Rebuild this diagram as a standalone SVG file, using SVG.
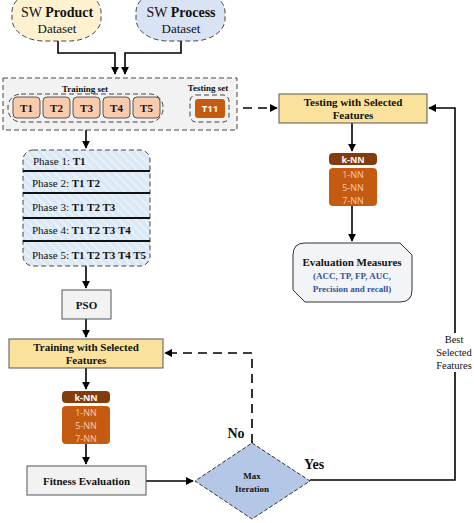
<svg xmlns="http://www.w3.org/2000/svg" width="474" height="523" viewBox="0 0 474 523">
<defs>
<marker id="ah" viewBox="0 0 10 10" refX="9" refY="5" markerWidth="5" markerHeight="5" orient="auto"><path d="M0,0 L10,5 L0,10 z" fill="#000"/></marker>
<pattern id="hatch" width="6" height="6" patternUnits="userSpaceOnUse" patternTransform="rotate(-45)"><rect width="6" height="6" fill="#dbe8f6"/><rect width="1.5" height="6" fill="#eef4fb"/></pattern>
</defs>
<style>
text{font-family:"Liberation Serif","Times New Roman",serif;fill:#111}
.b{font-weight:bold}
.c{text-anchor:middle}
.s{font-family:"Open Sans","Liberation Sans",sans-serif;font-weight:bold}
.line{stroke:#000;stroke-width:1.6;fill:none}
.dl{stroke:#000;stroke-width:1.6;fill:none;stroke-dasharray:9,6}
.t{fill:#f8cbad;stroke:#333;stroke-width:0.8}
.yel{fill:#fbe29c;stroke:#555;stroke-width:1}
.grey{fill:#f2f2f2;stroke:#555;stroke-width:1}
.kh{fill:#843c0c}
.kb{fill:#c55a11}
.nn{fill:#f8cbad;font-weight:normal}
</style>
<rect width="474" height="523" fill="#fff"/>

<g id="connectors">
<path class="line" d="M58,40 V53 H115 V74" marker-end="url(#ah)"/>
<path class="line" d="M181,40 V53 H125 V74" marker-end="url(#ah)"/>
<path class="line" d="M86,122 V148" marker-end="url(#ah)"/>
<path class="line" d="M86,266 V288" marker-end="url(#ah)"/>
<path class="line" d="M86,319 V337" marker-end="url(#ah)"/>
<path class="line" d="M86,368 V389" marker-end="url(#ah)"/>
<path class="line" d="M86,444 V464" marker-end="url(#ah)"/>
<path class="line" d="M146,481 H193" marker-end="url(#ah)"/>
<path class="dl" d="M228,108 H277" marker-end="url(#ah)"/>
<path class="line" d="M352,123 V151" marker-end="url(#ah)"/>
<path class="line" d="M352,206 V241" marker-end="url(#ah)"/>
<path class="dl" d="M252,443 V353 H165" marker-end="url(#ah)"/>
<path class="line" d="M310,480 H455 V372 M455,333 V108 H429" marker-end="url(#ah)"/>
<text class="b c" x="236" y="438" font-size="14">No</text>
<text class="b c" x="314" y="469" font-size="14">Yes</text>
<text class="c" x="454" y="343" font-size="10.5">Best</text>
<text class="c" x="454" y="356" font-size="10.5">Selected</text>
<text class="c" x="454" y="369" font-size="10.5">Features</text>
</g>

<g id="sw-product">
<rect x="12" y="-10" width="89" height="51" rx="32" ry="22" fill="#fdf1cf" stroke="#444" stroke-dasharray="5,3"/>
<text class="c" x="57" y="17" font-size="14">SW <tspan class="b">Product</tspan></text>
<text class="c" x="57" y="33" font-size="13">Dataset</text>
</g>

<g id="sw-process">
<rect x="136" y="-10" width="89" height="51" rx="32" ry="22" fill="#dae3f3" stroke="#444" stroke-dasharray="5,3"/>
<text class="c" x="181" y="17" font-size="14">SW <tspan class="b">Process</tspan></text>
<text class="c" x="181" y="33" font-size="13">Dataset</text>
</g>

<g id="dataset-split">
<rect x="3" y="78" width="234" height="52" fill="#f2f2f2" stroke="#444" stroke-dasharray="5,3"/>
<text class="b c" x="85" y="92" font-size="9">Training set</text>
<rect x="8" y="94" width="155" height="28" rx="13" fill="none" stroke="#444" stroke-dasharray="5,3"/>
<rect class="t" x="13" y="97" width="27" height="21" rx="4"/>
<rect class="t" x="43" y="97" width="27" height="21" rx="4"/>
<rect class="t" x="73" y="97" width="27" height="21" rx="4"/>
<rect class="t" x="103" y="97" width="27" height="21" rx="4"/>
<rect class="t" x="133" y="97" width="27" height="21" rx="4"/>
<text class="b c" x="26.5" y="112" font-size="11">T1</text>
<text class="b c" x="56.5" y="112" font-size="11">T2</text>
<text class="b c" x="86.5" y="112" font-size="11">T3</text>
<text class="b c" x="116.5" y="112" font-size="11">T4</text>
<text class="b c" x="146.5" y="112" font-size="11">T5</text>
<text class="b c" x="208" y="91" font-size="9">Testing set</text>
<rect x="190" y="95" width="39" height="27" rx="6" fill="none" stroke="#444" stroke-dasharray="5,3"/>
<rect class="kb" x="195" y="99" width="30" height="19" rx="3"/>
<text class="s c" x="210" y="112" font-size="9.5" style="fill:#fff">T11</text>
</g>

<g id="phases">
<rect x="23" y="150" width="127" height="116" rx="10" fill="url(#hatch)" stroke="#444" stroke-dasharray="5,3"/>
<path d="M23,171 H150 M23,193 H150 M23,218 H150 M23,241 H150" stroke="#111" stroke-width="2"/>
<text x="33" y="165" font-size="11">Phase 1: <tspan class="b">T1</tspan></text>
<text x="32" y="187" font-size="11">Phase 2: <tspan class="b">T1 T2</tspan></text>
<text x="32" y="211" font-size="11">Phase 3: <tspan class="b">T1 T2 T3</tspan></text>
<text x="32" y="234" font-size="11">Phase 4: <tspan class="b">T1 T2 T3 T4</tspan></text>
<text x="32" y="259" font-size="11">Phase 5: <tspan class="b">T1 T2 T3 T4 T5</tspan></text>
</g>

<g id="pso">
<rect class="grey" x="62" y="290" width="49" height="29"/>
<text class="b c" x="86.5" y="309" font-size="11">PSO</text>
</g>

<g id="training-selected">
<rect class="yel" x="9" y="339" width="154" height="29"/>
<text class="b c" x="86" y="351" font-size="11">Training with Selected</text>
<text class="b c" x="86" y="364" font-size="11">Features</text>
</g>

<g id="knn-train">
<rect class="kh" x="62" y="391" width="48" height="12" rx="4"/>
<text class="s c" x="86" y="401" font-size="9" style="fill:#fff">k-NN</text>
<rect class="kb" x="62" y="406" width="48" height="38" rx="4"/>
<text class="s c nn" x="86" y="416" font-size="9">1-NN</text>
<text class="s c nn" x="86" y="429" font-size="9">5-NN</text>
<text class="s c nn" x="86" y="442" font-size="9">7-NN</text>
</g>

<g id="fitness">
<rect class="grey" x="27" y="466" width="119" height="29"/>
<text class="b c" x="86.5" y="485" font-size="11">Fitness Evaluation</text>
</g>

<g id="max-iteration">
<path d="M252,443 L310,481 L252,519 L195,481 z" fill="#b4c7e7" stroke="#333" stroke-dasharray="4,2"/>
<text class="b c" x="252" y="479" font-size="9">Max</text>
<text class="b c" x="252" y="492" font-size="9">Iteration</text>
</g>

<g id="testing-selected">
<rect class="yel" x="279" y="94" width="148" height="29"/>
<text class="b c" x="353" y="106" font-size="11">Testing with Selected</text>
<text class="b c" x="353" y="119" font-size="11">Features</text>
</g>

<g id="knn-test">
<rect class="kh" x="329" y="153" width="48" height="12" rx="4"/>
<text class="s c" x="353" y="163" font-size="9" style="fill:#fff">k-NN</text>
<rect class="kb" x="329" y="168" width="48" height="38" rx="4"/>
<text class="s c nn" x="353" y="178" font-size="9">1-NN</text>
<text class="s c nn" x="353" y="191" font-size="9">5-NN</text>
<text class="s c nn" x="353" y="204" font-size="9">7-NN</text>
</g>

<g id="evaluation">
<path d="M305,243 H400 L412,255 V290 Q412,302 400,302 H305 L293,290 V255 Q293,243 305,243 z" fill="#f2f4f7" stroke="#333" stroke-width="1"/>
<text class="b c" x="352" y="266" font-size="11">Evaluation Measures</text>
<text class="b c" x="352" y="279" font-size="9" style="fill:#2f5597">(ACC, TP, FP, AUC,</text>
<text class="b c" x="352" y="292" font-size="9" style="fill:#2f5597">Precision and recall)</text>
</g>
</svg>
